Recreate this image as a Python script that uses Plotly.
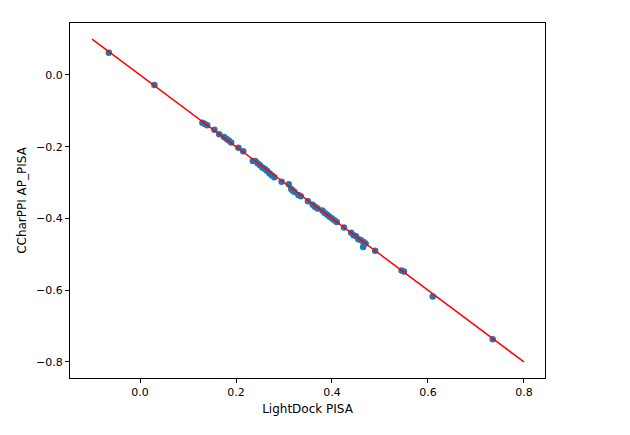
import plotly.graph_objects as go

lightdock_pisa = [-0.065,0.03,0.13,0.135,0.14,0.155,0.165,0.175,0.18,0.185,0.19,0.205,0.215,0.235,0.24,0.245,0.25,0.255,0.26,0.265,0.27,0.275,0.28,0.295,0.31,0.315,0.318,0.322,0.33,0.335,0.35,0.36,0.365,0.37,0.38,0.385,0.39,0.395,0.4,0.405,0.41,0.425,0.44,0.445,0.45,0.455,0.46,0.465,0.465,0.47,0.49,0.545,0.55,0.61,0.735]
ccharppi_pisa = [0.062,-0.028,-0.133,-0.137,-0.14,-0.153,-0.165,-0.173,-0.178,-0.183,-0.188,-0.203,-0.213,-0.24,-0.24,-0.246,-0.252,-0.258,-0.262,-0.268,-0.275,-0.28,-0.285,-0.298,-0.305,-0.318,-0.322,-0.326,-0.335,-0.338,-0.352,-0.362,-0.368,-0.372,-0.378,-0.385,-0.39,-0.395,-0.4,-0.405,-0.41,-0.425,-0.44,-0.447,-0.45,-0.458,-0.46,-0.465,-0.48,-0.47,-0.49,-0.545,-0.548,-0.618,-0.737]
fit_x = [-0.1, 0.8]
fit_y = [0.1, -0.8]

fig = go.Figure()
fig.add_trace(go.Scatter(x=lightdock_pisa, y=ccharppi_pisa, mode="markers",
                         marker=dict(color="#1f77b4", size=6.5), showlegend=False))
fig.add_trace(go.Scatter(x=fit_x, y=fit_y, mode="lines",
                         line=dict(color="red", width=1.5), showlegend=False))
ax = dict(showline=True, linecolor="black", linewidth=1, mirror=True, ticks="outside",
          ticklen=4, tickcolor="black", showgrid=False, zeroline=False,
          tickfont=dict(family="DejaVu Sans", size=11, color="black"))
fig.update_xaxes(**ax, range=[-0.146, 0.844], tickvals=[0,0.2,0.4,0.6,0.8],
                 ticktext=["0.0","0.2","0.4","0.6","0.8"],
                 title=dict(text="LightDock PISA", font=dict(family="DejaVu Sans", size=12, color="black"), standoff=6))
fig.update_yaxes(**ax, range=[-0.845, 0.145], tickvals=[0,-0.2,-0.4,-0.6,-0.8],
                 ticktext=["0.0","−0.2","−0.4","−0.6","−0.8"],
                 title=dict(text="CCharPPI AP_PISA", font=dict(family="DejaVu Sans", size=12, color="black"), standoff=6))
fig.update_layout(width=630, height=435, plot_bgcolor="white", paper_bgcolor="white",
                  margin=dict(l=62, r=93, t=15, b=65))
fig.write_html("out.html")
